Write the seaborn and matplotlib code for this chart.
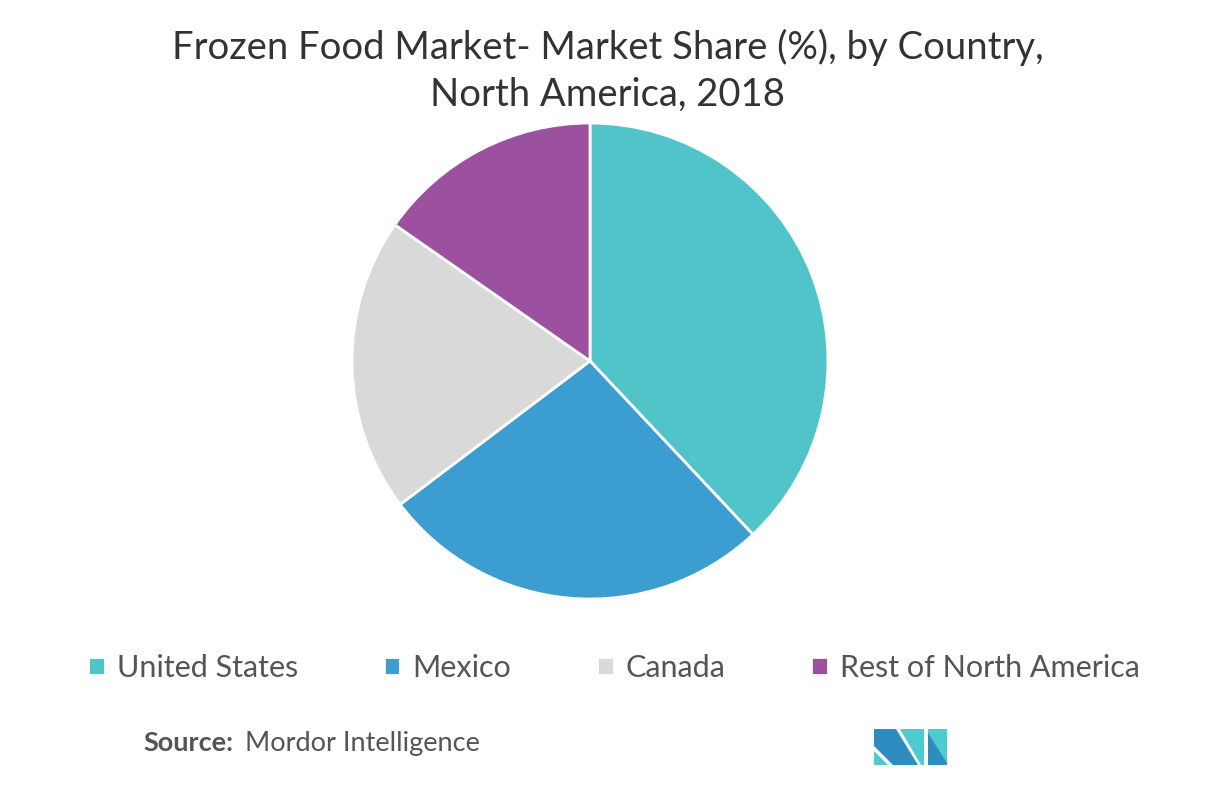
import matplotlib
matplotlib.use("Agg")
import matplotlib.pyplot as plt
import seaborn as sns
from matplotlib.patches import Polygon

countries = ["United States", "Mexico", "Canada", "Rest of North America"]
shares = [38.0, 26.7, 20.0, 15.3]
colors = ["#51c4ca", "#3c9dd0", "#d9d9d9", "#9c51a0"]

title_lines = ["Frozen Food Market- Market Share (%), by Country,", "North America, 2018"]

sns.set_theme(style="white")
plt.rcParams["font.family"] = ["Lato", "DejaVu Sans"]

W, H = 1217, 786
fig = plt.figure(figsize=(W / 100, H / 100), dpi=100)
fig.patch.set_facecolor("white")

cx, cy, r = 590, H - 361, 238
ax = fig.add_axes([(cx - r) / W, (cy - r) / H, 2 * r / W, 2 * r / H])
palette = sns.color_palette(colors)
wedges, _ = ax.pie(shares, colors=palette, startangle=90, counterclock=False,
                   radius=1, wedgeprops=dict(edgecolor="white", linewidth=2))
ax.set_xlim(-1, 1)
ax.set_ylim(-1, 1)
ax.set_aspect("equal")
ax.axis("off")

fig.text(608 / W, 1 - 47 / H, title_lines[0], ha="center", va="center",
         fontsize=27.5, color="#333333")
fig.text(608 / W, 1 - 95 / H, title_lines[1], ha="center", va="center",
         fontsize=27.5, color="#333333")

leg = fig.legend(wedges, countries, loc="center", bbox_to_anchor=(614 / W, 1 - 668 / H),
                 ncol=4, frameon=False, fontsize=22, handlelength=0.55, handleheight=0.55,
                 handletextpad=0.4, columnspacing=2.8, labelcolor="#555555")

fig.text(143 / W, 1 - 743 / H, "Source:", ha="left", va="center", fontsize=19.5,
         fontweight="bold", color="#555555")
fig.text(245 / W, 1 - 743 / H, "Mordor Intelligence", ha="left", va="center",
         fontsize=19.5, color="#555555")

# logo
dark = "#2f8cc0"
light = "#4ecbd0"
def P(pts, c):
    fig.patches.append(Polygon([(x / W, 1 - y / H) for x, y in pts], closed=True,
                               transform=fig.transFigure, facecolor=c, edgecolor="none"))
P([(874, 729), (896, 729), (918, 765), (893, 765), (874, 746)], dark)
P([(874, 751), (888, 765), (874, 765)], light)
P([(900, 729), (924, 729), (924, 765), (921, 765)], light)
P([(928, 729), (947, 729), (947, 765), (928, 765)], light)
P([(928, 733), (947, 763), (947, 765), (928, 765)], dark)

fig.savefig("out.png", dpi=100, facecolor="white")
